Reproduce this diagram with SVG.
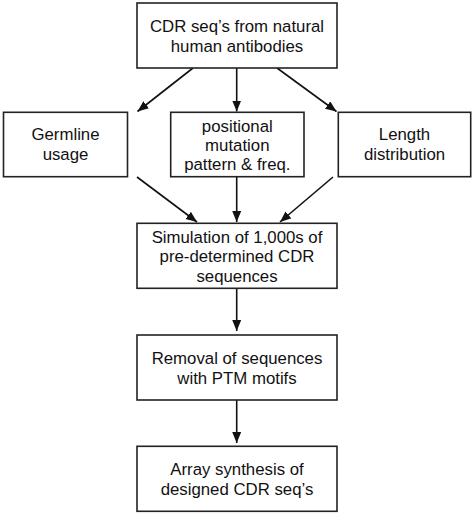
<svg xmlns="http://www.w3.org/2000/svg" width="474" height="515" viewBox="0 0 474 515">
<style>
.box{fill:#fff;stroke:#222;stroke-width:1.6}
.t{font-family:"Liberation Sans",Arial,sans-serif;font-size:16.8px;fill:#111;text-anchor:middle}
.c{stroke:#111;stroke-width:1.6;fill:none;marker-end:url(#ah)}
</style>
<defs>
<marker id="ah" markerUnits="userSpaceOnUse" markerWidth="12" markerHeight="10" refX="11" refY="4.5" orient="auto">
<path d="M0,0 L11,4.5 L0,9 z" fill="#111"/>
</marker>
</defs>
<rect width="474" height="515" fill="#fff"/>
<g id="connectors">
<line class="c" x1="193" y1="68" x2="137.5" y2="111.5"/>
<line class="c" x1="236.7" y1="68" x2="236.7" y2="111.5"/>
<line class="c" x1="277" y1="68" x2="336.5" y2="111.5"/>
<line class="c" x1="137" y1="177" x2="197" y2="222"/>
<line class="c" x1="236.7" y1="177" x2="236.7" y2="222"/>
<line class="c" x1="333" y1="177" x2="280" y2="222"/>
<line class="c" x1="236.7" y1="288.5" x2="236.7" y2="331"/>
<line class="c" x1="236.7" y1="400" x2="236.7" y2="443"/>
</g>
<g id="node-cdr">
<rect class="box" x="137" y="3" width="200" height="65"/>
<text class="t" x="237" y="31.7">CDR seq’s from natural</text>
<text class="t" x="237" y="52.3">human antibodies</text>
</g>
<g id="node-germline">
<rect class="box" x="3.5" y="112.3" width="124" height="64.4"/>
<text class="t" x="65.5" y="140">Germline</text>
<text class="t" x="65.5" y="160">usage</text>
</g>
<g id="node-positional">
<rect class="box" x="170.7" y="112.3" width="133.3" height="64.4"/>
<text class="t" x="237.3" y="131.7">positional</text>
<text class="t" x="237.3" y="150.7">mutation</text>
<text class="t" x="237.3" y="170">pattern &amp; freq.</text>
</g>
<g id="node-length">
<rect class="box" x="338.3" y="112.3" width="132.4" height="64.4"/>
<text class="t" x="404.5" y="140">Length</text>
<text class="t" x="404.5" y="160">distribution</text>
</g>
<g id="node-simulation">
<rect class="box" x="137" y="223.3" width="200" height="65"/>
<text class="t" x="237" y="242.7">Simulation of 1,000s of</text>
<text class="t" x="237" y="262.3">pre-determined CDR</text>
<text class="t" x="237" y="281.7">sequences</text>
</g>
<g id="node-removal">
<rect class="box" x="137" y="335" width="200" height="65"/>
<text class="t" x="237" y="364">Removal of sequences</text>
<text class="t" x="237" y="384.3">with PTM motifs</text>
</g>
<g id="node-array">
<rect class="box" x="137" y="446.3" width="200" height="65"/>
<text class="t" x="237" y="475">Array synthesis of</text>
<text class="t" x="237" y="495">designed CDR seq’s</text>
</g>
</svg>
